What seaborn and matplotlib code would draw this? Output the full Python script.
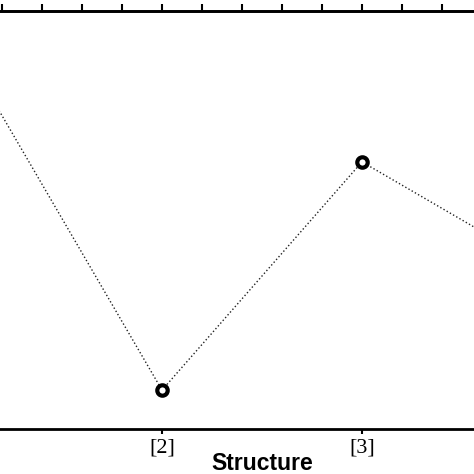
import matplotlib
matplotlib.use("Agg")

import matplotlib.pyplot as plt
import numpy as np
import seaborn as sns

# structures along x, relative value on y (axis scale is cropped off in the source)
structures = ["[1]", "[2]", "[3]", "[4]"]
values = [0.914, 0.093, 0.639, 0.361]

sns.set_style("white")
plt.rcParams["font.family"] = ["Liberation Serif", "DejaVu Serif"]

fig = plt.figure(figsize=(4.74, 4.74), dpi=100)
# the source image is a crop: the axes run past the left and right edges
ax = fig.add_axes([-38 / 474, 45 / 474, 600 / 474, 418 / 474])

pos = np.arange(1, len(structures) + 1)
sns.lineplot(x=pos, y=values, ax=ax, color="#222222", linestyle=":", lw=1.0,
             marker="o", markersize=7.5, markeredgewidth=3.0,
             markerfacecolor="white", markeredgecolor="black")

ax.set_xlim(1, 4)
ax.set_ylim(0, 1)
ax.set_xticks(pos)
ax.set_xticklabels(structures, fontsize=16, color="black")
# the outer two labels fall outside the cropped frame
for lbl in ax.get_xticklabels():
    if lbl.get_text() in ("[1]", "[4]"):
        lbl.set_visible(False)
ax.set_yticks([])
ax.tick_params(axis="x", direction="out", length=3.6, width=1.5, pad=3.5,
               bottom=True, colors="black")
for s in ax.spines.values():
    s.set_linewidth(2.0)
    s.set_color("black")

top = ax.secondary_xaxis("top")
top.set_xticks(np.arange(1, 4.01, 0.2))
top.set_xticklabels([])
top.tick_params(direction="out", length=5, width=1.5, colors="black")
top.spines["top"].set_linewidth(2.0)

ax.set_xlabel("Structure", fontsize=16.5, fontweight="bold", color="black",
              family=["Liberation Sans", "DejaVu Sans"], labelpad=-4)

fig.savefig("out.png", dpi=100)
